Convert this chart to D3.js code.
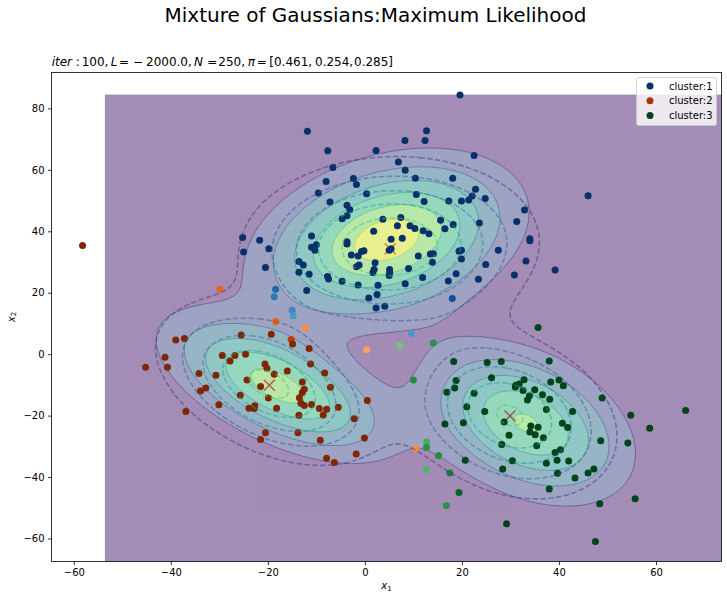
<!DOCTYPE html>
<html lang="en">
<head>
    <meta charset="UTF-8">
    <title>Mixture of Gaussians</title>
    <script src="https://d3js.org/d3.v7.min.js"></script>
    <style>
        body { margin: 0; background: #fff; }
        svg { display: block; }
        text { font-family: "DejaVu Sans", sans-serif; fill: #000; }
        .tick text { font-size: 10px; }
    </style>
</head>
<body>
<div id="chart"></div>
<script>
    // points, one pair of arrays per cluster (solid dark points)
    const cluster1X = [-11.85,-7.66,-6.6,-2.37,-1.75,-8.0,-9.6,-7.2,-3.7,-3.1,-3.7,-4.7,-11,-25.2,-21.7,-25,-19.8,-3.7,-3.7,-10,-11,-10.3,-2.8,-1.4,-0.7,-1.75,-1.2,-13.6,-12.7,-13.6,-11.5,-20.5,-7.7,-7.5,-4.7,-1.4,-12,19.6,12.7,8.25,12.4,2.3,22.5,6.9,8.3,10.4,18.1,22.8,22.1,21.4,19.9,17.3,24.8,10.6,12.2,0.35,46,32.9,31.3,23.6,15.6,18.2,16.5,3.7,7.4,6.7,9.3,10.3,12,13.2,1.8,7.7,5.4,5.4,5,-0.2,34,34,27.5,19.4,19.9,13.5,14.1,11,19.9,13.9,2.1,33.2,24.9,9,1.9,1.65,5.1,5.1,5,18.8,39.2,30.8,11.9,17.2,23.4,8.3,2.7,2.5,0.8,2.3,4.1];
    const cluster1Y = [72.6,66.2,60.8,57.2,55.2,56.2,52.5,49.5,48.5,47,45.1,44.1,38.5,38,37.1,33.3,34.3,36.6,35.9,35.6,34.8,33.8,32.3,32,33.4,28.5,29,30.2,29,26.7,26,28.2,25.3,24.5,23.7,22.5,20.7,84.4,72.7,69.6,69.6,66.3,64.7,62.6,59.9,57.3,57.3,53.7,51.5,50.2,49.9,49.9,50.7,52,49.7,52.2,51.6,46.9,43.2,42.7,43.6,42.2,40.8,43.9,44.5,41.8,41.8,40.9,40.2,39.2,40,37.7,37.4,34.3,33.8,33.7,37.6,36.9,33.8,33.5,33.8,32.6,32.7,32,31,29.9,29.8,30.3,29.2,27.9,27.6,26.6,27.6,26.6,25.6,26.2,27.4,25.8,25,23.8,24.4,22.9,22.4,19.4,18.3,15,15.6];
    const cluster2X = [-58.2,-45.2,-41.2,-40.7,-39,-37.2,-36.9,-34.2,-33.9,-32.8,-30.7,-30.1,-29.4,-27.8,-26.8,-25.7,-24.6,-25.5,-24.3,-23.9,-22.7,-22.8,-21.5,-21.5,-20.5,-20.6,-20.2,-19.9,-18.7,-18.2,-19.3,-14.9,-16,-12.9,-12.5,-12.9,-13.5,-13.2,-12.5,-11,-13.6,-13.8,-11.5,-11.2,-8.3,-7.1,-9.4,-7.9,-8.6,-5.5,-9.2,-7.9,-6.3,-2.2,-1.8,-0.1,0.5];
    const cluster2Y = [35.4,-4.25,-1,-4.25,4.65,5.1,-18.7,-6.3,-12,-11,-6.85,-16.5,-0.45,-2.2,-0.45,-13.4,-0.05,6.2,-8.4,-17.6,-16.8,-17.7,-10.5,-27.8,-25.6,-3.2,-4.6,-14.3,-6.5,-17.6,6.5,3.35,-5.5,-9.1,-11.4,-12.5,-14.2,-16,-16.7,-16.4,-19.9,-25.6,1.85,-3.2,-6.1,-10.8,-17.7,-17.9,-19.8,-17.3,-28,-33.9,-35.3,-21,-32.5,-27.3,-15.1];
    const cluster3X = [35.7,18.3,25.2,28.1,38,26.1,32.8,31.1,31.8,31,32.6,35,38.3,40,40.9,36.6,33.9,33.5,38.1,18.8,18.5,16.9,22.5,21,24.7,37.4,42.8,48.9,54.8,66.1,58.7,20.3,16.5,28.7,40.7,41.8,34.2,35.7,34,35.1,29.7,36.8,28.2,35.4,48.6,54.2,40.3,39.2,39.6,42,37.4,30.4,20.7,28.4,39.7,46,47.2,43.3,38,48.4,55.7,29.2,47.5];
    const cluster3Y = [8.7,-2.4,-2.7,-2.4,-2.2,-7.7,-8.3,-10.1,-9.7,-10.7,-11.8,-11.6,-9.1,-8.4,-10.3,-13.2,-13.6,-14.9,-14.7,-8.6,-11,-12.4,-12.7,-17.1,-18.7,-18,-18.7,-14.3,-19.9,-18.3,-24.1,-22.3,-22.7,-22.1,-22.5,-23.9,-23.4,-23.8,-25.3,-26.2,-26.4,-27.2,-29.4,-29.8,-28.2,-28.9,-31.1,-32,-34.5,-34.8,-35.5,-34.7,-34.5,-37.4,-38.8,-38.7,-37.4,-40.3,-43.9,-48.7,-47.1,-55.2,-61];

    // points with a paler colour: x, y and how far along the cluster's colormap they sit
    const mixed1X = [-18.4,-18.7,-15,-14.8,18,9.6];
    const mixed1Y = [21.1,18.7,14.3,12.5,18.1,6.8];
    const mixed1R = [0.78,0.72,0.66,0.6,0.88,0.6];
    const mixed2X = [-15.2,-18.4,-12.3,-29.9,0.35,10.5];
    const mixed2Y = [4.8,10.6,8.6,21.1,1.4,-30.7];
    const mixed2R = [0.82,0.66,0.5,0.64,0.42,0.5];
    const mixed3X = [10,14.1,7.2,12.7,12.7,15.2,12.6,17.5,19.4,16.8];
    const mixed3Y = [-8.4,3.6,2.7,-28.6,-30.4,-33,-37.6,-38.7,-45,-49.3];
    const mixed3R = [0.75,0.72,0.5,0.62,0.72,0.75,0.58,0.8,0.9,0.72];

    // centres (the crosses)
    const centreX = [5.2,-19.7,29.9];
    const centreY = [34.3,-10.1,-20.1];
    const centreColors = ['#e8762c','#b85c3c','#96604c'];

    // filled/solid contour mixture
    const solidW = [0.46,0.25,0.279];
    const solidMX = [4.5,-17.9,33.2];
    const solidMY = [37.2,-10.6,-22.4];
    const solidSX = [15.1,13.6,12.5];
    const solidSY = [15.4,13.6,15];
    const solidRho = [0.3,-0.6,-0.37];

    // dashed contour mixture
    const dashW = [0.475,0.27,0.285];
    const dashMX = [5.1,-19.8,29.9];
    const dashMY = [35,-10,-20];
    const dashSX = [16.3,12.8,12.2];
    const dashSY = [15.5,14.4,15];
    const dashRho = [0.05,-0.45,-0.25];

    const piValues = [0.461,0.254,0.285];
    const levels = [0.00005,0.0001,0.00015,0.0002,0.00025,0.0003];
    const xTicks = [-60,-40,-20,0,20,40,60];
    const yTicks = [-60,-40,-20,0,20,40,60,80];
    const legendLabels = ['cluster:1','cluster:2','cluster:3'];
    const legendColors = ['#08306b','#a63603','#00441b'];

    const width = 727, height = 601;
    const svg = d3.select('#chart').append('svg').attr('width', width).attr('height', height);

    const x = d3.scaleLinear().domain([-64.6, 73.5]).range([51.5, 721.5]);
    const y = d3.scaleLinear().domain([-67.5, 91.7]).range([561.5, 72.5]);

    svg.append('clipPath').attr('id', 'plot').append('rect')
        .attr('x', x.range()[0]).attr('y', y.range()[1])
        .attr('width', x.range()[1] - x.range()[0]).attr('height', y.range()[0] - y.range()[1]);

    // density grid
    const step = 0.5, gridX0 = -53.6, gridX1 = 74, gridY0 = -68, gridY1 = 84.5;
    const nx = Math.round((gridX1 - gridX0) / step) + 1;
    const ny = Math.round((gridY1 - gridY0) / step) + 1;

    function density(w, mx, my, sx, sy, rho) {
        const values = new Float64Array(nx * ny);
        for (let j = 0; j < ny; j++) {
            for (let i = 0; i < nx; i++) {
                const px = gridX0 + i * step, py = gridY0 + j * step;
                let sum = 0;
                for (let k = 0; k < w.length; k++) {
                    const a = (px - mx[k]) / sx[k], b = (py - my[k]) / sy[k], c = 1 - rho[k] * rho[k];
                    sum += w[k] / (2 * Math.PI * sx[k] * sy[k] * Math.sqrt(c)) * Math.exp(-(a * a + b * b - 2 * rho[k] * a * b) / (2 * c));
                }
                values[j * nx + i] = sum;
            }
        }
        return values;
    }

    const gridPath = d3.geoPath(d3.geoTransform({
        point: function (gx, gy) {
            this.stream.point(x(gridX0 + (gx - 0.5) * step), y(gridY0 + (gy - 0.5) * step));
        }
    }));
    const contourGen = d3.contours().size([nx, ny]).thresholds(levels);
    const solidContours = contourGen(density(solidW, solidMX, solidMY, solidSX, solidSY, solidRho));
    const dashContours = contourGen(density(dashW, dashMX, dashMY, dashSX, dashSY, dashRho));

    const plot = svg.append('g').attr('clip-path', 'url(#plot)');

    // filled bands, flattened to a single 0.5 alpha. 7 bands, coloured at their midpoints
    const bands = plot.append('g').attr('opacity', 0.5);
    bands.append('rect')
        .attr('x', x(gridX0)).attr('y', y(gridY1))
        .attr('width', x(gridX1) - x(gridX0)).attr('height', y(gridY0) - y(gridY1))
        .attr('fill', d3.interpolateViridis(0.5 / 7));
    bands.selectAll('path').data(solidContours).enter().append('path')
        .attr('d', gridPath)
        .attr('fill', (d, i) => d3.interpolateViridis((i + 1.5) / 7));

    plot.append('g').selectAll('path').data(solidContours).enter().append('path')
        .attr('d', gridPath)
        .attr('fill', 'none')
        .attr('stroke', (d, i) => d3.interpolateViridis((i + 1) / 7))
        .attr('stroke-opacity', 0.5)
        .attr('stroke-width', 1);

    // centres
    const crossSize = 5.5;
    centreX.forEach((cx, i) => {
        plot.append('path')
            .attr('d', `M${x(cx) - crossSize},${y(centreY[i]) - crossSize}L${x(cx) + crossSize},${y(centreY[i]) + crossSize}M${x(cx) - crossSize},${y(centreY[i]) + crossSize}L${x(cx) + crossSize},${y(centreY[i]) - crossSize}`)
            .attr('stroke', centreColors[i])
            .attr('stroke-width', 1.5)
            .attr('fill', 'none');
    });

    // points
    function drawPoints(xs, ys, color) {
        plot.append('g').selectAll('circle').data(xs).enter().append('circle')
            .attr('cx', d => x(d))
            .attr('cy', (d, i) => y(ys[i]))
            .attr('r', 3.5)
            .attr('fill', (d, i) => color(i));
    }
    drawPoints(mixed1X, mixed1Y, i => d3.interpolateBlues(mixed1R[i]));
    drawPoints(mixed2X, mixed2Y, i => d3.interpolateOranges(mixed2R[i]));
    drawPoints(mixed3X, mixed3Y, i => d3.interpolateGreens(mixed3R[i]));
    drawPoints(cluster1X, cluster1Y, () => d3.interpolateBlues(1));
    drawPoints(cluster2X, cluster2Y, () => d3.interpolateOranges(1));
    drawPoints(cluster3X, cluster3Y, () => d3.interpolateGreens(1));

    plot.append('g').selectAll('path').data(dashContours).enter().append('path')
        .attr('d', gridPath)
        .attr('fill', 'none')
        .attr('stroke', (d, i) => d3.interpolateViridis((i + 1) / 7))
        .attr('stroke-opacity', 0.5)
        .attr('stroke-width', 1.5)
        .attr('stroke-dasharray', '5.5,2.4');

    // axes
    const xAxis = svg.append('g').attr('transform', `translate(0,${y.range()[0]})`)
        .call(d3.axisBottom(x).tickValues(xTicks).tickSize(3.5).tickPadding(3.5));
    const yAxis = svg.append('g').attr('transform', `translate(${x.range()[0]},0)`)
        .call(d3.axisLeft(y).tickValues(yTicks).tickSize(3.5).tickPadding(3.5));
    xAxis.select('.domain').remove();
    yAxis.select('.domain').remove();
    svg.selectAll('.tick line').attr('stroke', '#000').attr('stroke-width', 0.8);
    svg.selectAll('.tick text').attr('fill', '#000');

    svg.append('rect')
        .attr('x', x.range()[0]).attr('y', y.range()[1])
        .attr('width', x.range()[1] - x.range()[0]).attr('height', y.range()[0] - y.range()[1])
        .attr('fill', 'none').attr('stroke', '#000').attr('stroke-width', 0.8);

    // legend
    const legend = svg.append('g');
    legend.append('rect')
        .attr('x', 636.5).attr('y', 77.5).attr('width', 80).attr('height', 48).attr('rx', 2)
        .attr('fill', '#fff').attr('fill-opacity', 0.8)
        .attr('stroke', '#ccc').attr('stroke-opacity', 0.8);
    legendLabels.forEach((label, i) => {
        legend.append('circle').attr('cx', 650).attr('cy', 86 + i * 14.8).attr('r', 3.5).attr('fill', legendColors[i]);
        legend.append('text').attr('x', 669).attr('y', 89.5 + i * 14.8).attr('font-size', 10).text(label);
    });

    // titles
    svg.append('text').attr('x', 375.5).attr('y', 22).attr('text-anchor', 'middle').attr('font-size', 20)
        .text('Mixture of Gaussians:Maximum Likelihood');

    const piText = piValues.map(d => d.toFixed(3));
    const subtitleParts = [
        ['iter', 51.7, true], [':', 75.7], ['100,', 81.7], ['L', 110.7, true], ['=', 119], ['\u2212', 133], ['2000.0,', 146],
        ['N', 194, true], ['=', 207.3], ['250,', 218.3], ['\u03c0', 247.7, true], ['=', 256.7],
        ['[' + piText[0] + ',', 269.3], [piText[1] + ',', 315], [piText[2] + ']', 354]
    ];
    const subtitle = svg.append('text').attr('y', 66).attr('font-size', 12);
    subtitleParts.forEach(p => {
        subtitle.append('tspan').attr('x', p[1]).attr('font-style', p[2] ? 'italic' : 'normal').text(p[0]);
    });

    const xLabel = svg.append('text').attr('x', 386.5).attr('y', 589).attr('text-anchor', 'middle').attr('font-size', 10);
    xLabel.append('tspan').attr('font-style', 'italic').text('x');
    xLabel.append('tspan').attr('font-size', 7).attr('dy', 1.5).text('1');

    const yLabel = svg.append('text').attr('transform', 'translate(14.5,317) rotate(-90)').attr('text-anchor', 'middle').attr('font-size', 10);
    yLabel.append('tspan').attr('font-style', 'italic').text('x');
    yLabel.append('tspan').attr('font-size', 7).attr('dy', 1.5).text('2');
</script>
</body>
</html>
